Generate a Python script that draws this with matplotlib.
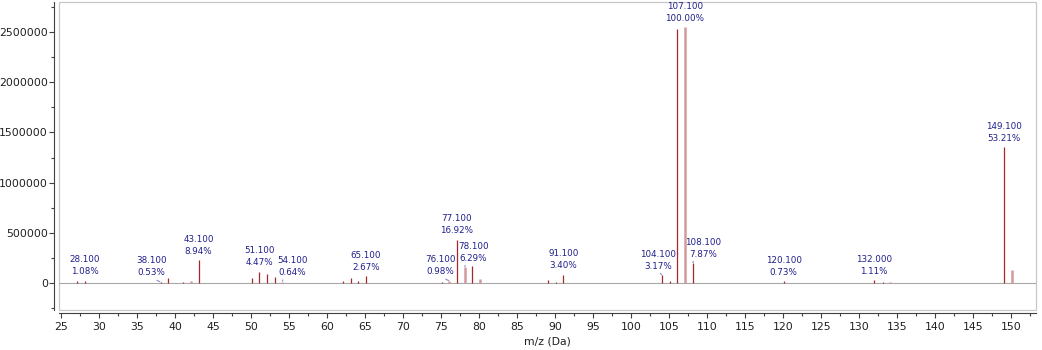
import matplotlib
matplotlib.use('Agg')
import matplotlib.pyplot as plt
from matplotlib.patches import Rectangle
from matplotlib.ticker import MultipleLocator, FuncFormatter

# peaks drawn as thin dark sticks
dark_mz = [26.1, 27.1, 28.1, 29.1, 30.1, 38.1, 39.1, 40.1, 41.1, 43.1, 44.1,
           49.1, 50.1, 51.1, 52.1, 53.1, 55.1, 56.1, 61.1, 62.1, 63.1, 64.1,
           65.1, 67.1, 73.1, 75.1, 77.1, 79.1, 81.1, 85.1, 86.1, 87.1, 89.1,
           90.1, 91.1, 92.1, 102.1, 103.1, 104.1, 105.1, 106.1, 108.1, 109.1,
           115.1, 116.1, 117.1, 118.1, 119.1, 120.1, 121.1, 131.1, 132.0,
           133.1, 135.1, 147.1, 148.1, 149.1, 152.1]
dark_int = [3000, 20000, 27500, 3000, 1500, 13500, 56000, 8000, 16000, 227500, 3000,
            2000, 50000, 113800, 96000, 60000, 2000, 1000, 5000, 20000, 53000, 23000,
            68000, 2000, 2000, 10000, 430600, 172000, 2000, 1500, 1500, 2000, 33000,
            17000, 86500, 5000, 2000, 2000, 80700, 26000, 2530000, 200300, 3000,
            1000, 1500, 1500, 4000, 1500, 18600, 2500, 2000, 28200,
            15000, 2000, 2000, 2000, 1354000, 1000]

# peaks drawn as wider light sticks
light_mz = [42.1, 54.1, 66.1, 74.1, 76.1, 78.1, 80.1, 107.1, 134.1, 150.1, 151.1]
light_int = [25000, 16300, 8000, 8000, 24900, 160000, 43000, 2545000, 12000, 133000, 3000]

# annotated peaks
label_mz = [28.1, 38.1, 43.1, 51.1, 54.1, 65.1, 76.1, 77.1, 78.1, 91.1,
            104.1, 107.1, 108.1, 120.1, 132.0, 149.1]
label_txt = ['28.100', '38.100', '43.100', '51.100', '54.100', '65.100', '76.100',
             '77.100', '78.100', '91.100', '104.100', '107.100', '108.100',
             '120.100', '132.000', '149.100']
label_pct = ['1.08%', '0.53%', '8.94%', '4.47%', '0.64%', '2.67%', '0.98%',
             '16.92%', '6.29%', '3.40%', '3.17%', '100.00%', '7.87%',
             '0.73%', '1.11%', '53.21%']

# horizontal shift of some labels (pixels) so they do not collide
shift = {'38.100': -9, '54.100': 10, '76.100': -9, '78.100': 9,
         '104.100': -4, '108.100': 11}

DARK = '#a3272b'
LIGHT = '#d29a9a'
NAVY = '#1f1f8c'
LEADER = '#8a8ac8'

fig = plt.figure(figsize=(10.42, 3.5), dpi=100)
fig.patch.set_facecolor('white')
ax = fig.add_axes([59 / 1042, 40 / 350, 977 / 1042, 308 / 350])

ax.axhline(0, color='#a8a8a8', lw=0.8, zorder=1)
ax.vlines(light_mz, 0, light_int, color=LIGHT, lw=1.8, zorder=2)
ax.vlines(dark_mz, 0, dark_int, color=DARK, lw=0.9, zorder=3)

allpk = dict(zip(dark_mz, dark_int))
allpk.update(zip(light_mz, light_int))

for mz, t, p in zip(label_mz, label_txt, label_pct):
    h = allpk[mz]
    dx = shift.get(t, 0)
    kw = dict(xycoords='data', textcoords='offset pixels', ha='center',
              va='center', fontsize=6.3, color=NAVY, zorder=5)
    if t in shift:
        ax.annotate(p, xy=(mz, h), xytext=(dx, 9),
                    arrowprops=dict(arrowstyle='-', color=LEADER, lw=0.8,
                                    shrinkA=0, shrinkB=0.5,
                                    connectionstyle='arc3,rad=0.25'), **kw)
    else:
        ax.annotate(p, xy=(mz, h), xytext=(dx, 9), **kw)
    ax.annotate(t, xy=(mz, h), xytext=(dx, 21), **kw)

ax.set_xlim(24.74, 153.29)
ax.set_ylim(-265000, 2795000)

ax.xaxis.set_major_locator(MultipleLocator(5))
ax.xaxis.set_minor_locator(MultipleLocator(2.5))
ax.yaxis.set_major_locator(MultipleLocator(500000))
ax.yaxis.set_minor_locator(MultipleLocator(250000))
ax.yaxis.set_major_formatter(FuncFormatter(lambda v, pos: '%d' % v))

for s in ['top', 'right']:
    ax.spines[s].set_visible(False)
ax.spines['left'].set_position(('outward', 3.6))
ax.spines['bottom'].set_position(('outward', 2.2))
for s in ['left', 'bottom']:
    ax.spines[s].set_color('#404040')
    ax.spines[s].set_linewidth(0.8)

ax.tick_params(axis='both', which='major', direction='out', length=3.5,
               width=0.8, color='#404040', labelsize=7.8, labelcolor='#202020')
ax.tick_params(axis='both', which='minor', direction='out', length=2.2,
               width=0.8, color='#404040')
ax.tick_params(axis='y', which='major', pad=1)
ax.tick_params(axis='x', which='major', pad=3)

# light frame around the plotting area
ax.add_patch(Rectangle((0, 0), 1, 1, transform=ax.transAxes, fill=False,
                       edgecolor='#c8c8c8', lw=0.9, clip_on=False, zorder=0))

ax.set_xlabel('m/z (Da)', fontsize=7.8, color='#202020', labelpad=3)

fig.savefig('out.png', dpi=100)
